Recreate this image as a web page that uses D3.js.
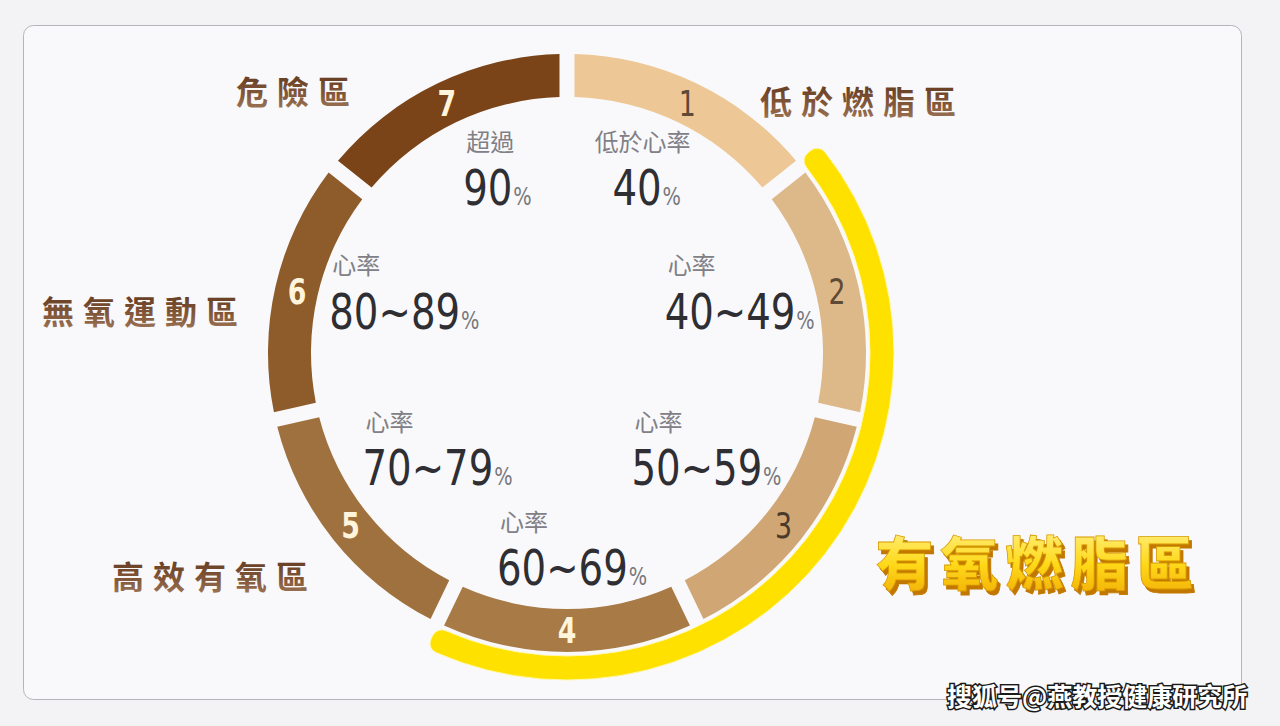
<!DOCTYPE html>
<html>
<head>
<meta charset="utf-8">
<script src="https://cdn.jsdelivr.net/npm/d3@7"></script>
<style>
  html, body { margin: 0; padding: 0; background: #f3f3f6; }
  svg { display: block; }
</style>
</head>
<body>
<svg id="chart" width="1280" height="726"></svg>
<script>
// zones of the heart-rate ring, clockwise from the top
var zoneIds = [1, 2, 3, 4, 5, 6, 7];
var zoneShare = [1, 1, 1, 1, 1, 1, 1];
var zoneCaption = ["低於心率", "心率", "心率", "心率", "心率", "心率", "超過"];
var zoneRange = ["40", "40~49", "50~59", "60~69", "70~79", "80~89", "90"];
var zoneColors = ["#edc795", "#ddb98a", "#d0a674", "#a77a46", "#9f713e", "#8e5b2a", "#7a4418"];
var zoneNumColors = ["#5e4a35", "#5e4a35", "#4a3a2a", "#fff4dc", "#fff4dc", "#fff4dc", "#fff4dc"];
var zoneNames = ["低於燃脂區", "無氧運動區", "高效有氧區", "危險區"];
var fatBurnName = "有氧燃脂區";
var fatBurnZones = [2, 4]; // first and last zone id covered by the yellow band
var credit = "搜狐号@燕教授健康研究所";

var svg = d3.select("#chart");
var cx = 567, cy = 353;
var rIn = 256, rOut = 299;
var numFont = "'Liberation Sans Narrow', 'DejaVu Sans Condensed', Roboto, sans-serif";

// frame
svg.append("rect")
    .attr("x", 23.5).attr("y", 25.5)
    .attr("width", 1218).attr("height", 674)
    .attr("rx", 10)
    .attr("fill", "#f9f9fb")
    .attr("stroke", "#b4b4ba")
    .attr("stroke-width", 1);

var defs = svg.append("defs");
var gold = defs.append("linearGradient").attr("id", "gold")
    .attr("x1", 0).attr("y1", 0).attr("x2", 0).attr("y2", 1);
gold.append("stop").attr("offset", "0%").attr("stop-color", "#fff59a");
gold.append("stop").attr("offset", "55%").attr("stop-color", "#ffd91a");
gold.append("stop").attr("offset", "100%").attr("stop-color", "#f0a800");

var brown = defs.append("linearGradient").attr("id", "brown")
    .attr("x1", 0).attr("y1", 0).attr("x2", 0).attr("y2", 1);
brown.append("stop").attr("offset", "0%").attr("stop-color", "#5a3119");
brown.append("stop").attr("offset", "60%").attr("stop-color", "#83583a");
brown.append("stop").attr("offset", "100%").attr("stop-color", "#a27a5c");

var shadow = defs.append("filter").attr("id", "lift")
    .attr("x", "-10%").attr("y", "-20%").attr("width", "120%").attr("height", "140%");
shadow.append("feDropShadow")
    .attr("dx", 3).attr("dy", 4)
    .attr("stdDeviation", 0.6)
    .attr("flood-color", "#c27800")
    .attr("flood-opacity", 1);

var pie = d3.pie().sort(null).value(function(d) { return d; });
var arcs = pie(zoneShare);

var arc = d3.arc()
    .innerRadius(rIn)
    .outerRadius(rOut)
    .padRadius(300)
    .padAngle(0.05);

var g = svg.append("g").attr("transform", "translate(" + cx + "," + cy + ")");

// yellow band for the fat-burning zones
var a0 = arcs[fatBurnZones[0] - 1].startAngle - 0.02;
var a1 = arcs[fatBurnZones[1] - 1].endAngle - 0.005;
g.append("path")
    .attr("d", d3.arc().innerRadius(303).outerRadius(327).cornerRadius(10)
        .startAngle(a0).endAngle(a1)())
    .attr("fill", "#ffe100")
    .attr("stroke", "#fff7b0")
    .attr("stroke-width", 1);

g.selectAll(".seg")
    .data(arcs)
    .enter()
    .append("path")
    .attr("class", "seg")
    .attr("d", arc)
    .attr("fill", function(d, i) { return zoneColors[i]; });

// ring numbers
var numArc = d3.arc().innerRadius(277).outerRadius(277);
g.selectAll(".num")
    .data(arcs)
    .enter()
    .append("text")
    .attr("class", "num")
    .attr("transform", function(d) {
        var p = numArc.centroid(d);
        return "translate(" + p[0] + "," + p[1] + ") scale(0.85,1)";
    })
    .attr("dy", "0.36em")
    .attr("text-anchor", "middle")
    .attr("font-family", numFont)
    .attr("font-size", 35)
    .attr("font-weight", function(d, i) { return i >= 3 ? 600 : 400; })
    .attr("fill", function(d, i) { return zoneNumColors[i]; })
    .text(function(d, i) { return zoneIds[i]; });

// heart-rate texts inside the ring
arcs.forEach(function(d, i) {
    var t = (d.startAngle + d.endAngle) / 2;
    var c = Math.cos(t), s = Math.sin(t);
    var bx = 5 + 172 * s;
    var by = -172 * c - 12 + 54 * Math.pow(Math.max(0, -c), 2.7) + 10 * (1 - Math.abs(c));

    var holder = g.append("g");
    var val = holder.append("text")
        .attr("y", 18)
        .attr("font-family", numFont)
        .attr("fill", "#2e2e33");
    val.append("tspan").attr("font-size", 50).text(zoneRange[i]);
    val.append("tspan").attr("font-size", 25).attr("fill", "#77777c").attr("dx", 1).text("%");
    var w = val.node().getBBox().width * 0.86;
    var left = bx - w / 2;
    holder.attr("transform", "translate(" + left + "," + by + ") scale(0.86,1)");

    var cap = g.append("text")
        .attr("y", by - 47)
        .attr("dominant-baseline", "central")
        .attr("font-family", "'Noto Sans CJK TC', sans-serif")
        .attr("font-size", 24)
        .attr("fill", "#808086")
        .text(zoneCaption[i]);
    if (zoneCaption[i].length > 2) {
        cap.attr("x", bx - 4).attr("text-anchor", "middle");
    } else {
        cap.attr("x", left + 3);
    }
});

// zone names around the ring
var namePos = [[858, 100], [140, 310], [210, 575], [293, 90]];
zoneNames.forEach(function(n, i) {
    svg.append("text")
        .attr("x", namePos[i][0] + 4.5)
        .attr("y", namePos[i][1])
        .attr("dominant-baseline", "central")
        .attr("text-anchor", "middle")
        .attr("font-family", "'Noto Sans CJK TC', sans-serif")
        .attr("font-weight", 700)
        .attr("font-size", 32)
        .attr("letter-spacing", 9)
        .attr("fill", "url(#brown)")
        .text(n);
});

// big yellow label
svg.append("text")
    .attr("x", 1038)
    .attr("y", 560)
    .attr("dominant-baseline", "central")
    .attr("text-anchor", "middle")
    .attr("font-family", "'Noto Sans CJK TC', sans-serif")
    .attr("font-weight", 900)
    .attr("font-size", 58)
    .attr("letter-spacing", 7)
    .attr("fill", "url(#gold)")
    .attr("stroke", "#d99a00")
    .attr("stroke-width", 0.8)
    .attr("filter", "url(#lift)")
    .text(fatBurnName);

// credit line
svg.append("text")
    .attr("x", 947)
    .attr("y", 695)
    .attr("dominant-baseline", "central")
    .attr("font-family", "'Noto Sans CJK SC', sans-serif")
    .attr("font-weight", 700)
    .attr("font-size", 25)
    .attr("fill", "#ffffff")
    .attr("stroke", "#1a1a1a")
    .attr("stroke-width", 3)
    .attr("paint-order", "stroke")
    .text(credit);
</script>
</body>
</html>
